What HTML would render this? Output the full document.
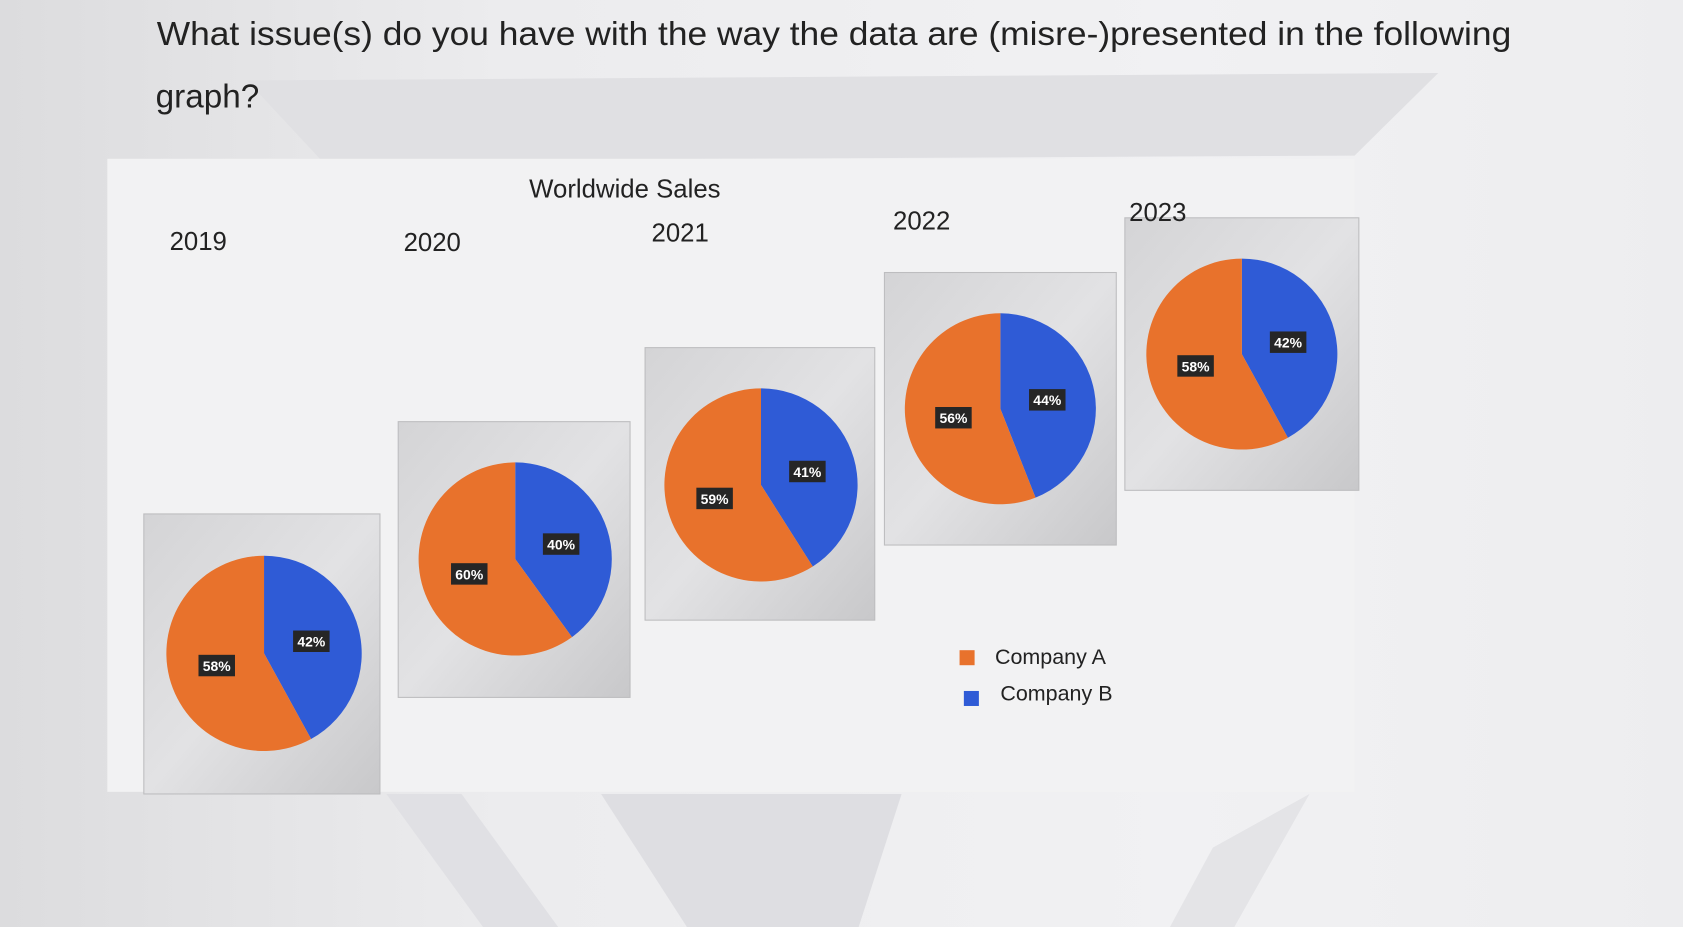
<!DOCTYPE html>
<html><head><meta charset="utf-8">
<style>
html,body{margin:0;padding:0;overflow:hidden}
body{width:1683px;height:927px;background:#e4e4e6}
#wrap{position:absolute;left:0;top:0;width:1568px;height:864px;transform:scale(1.07334,1.07292);transform-origin:0 0;
background:linear-gradient(90deg,#dcdcde 0%,#ececee 30%,#f1f1f3 70%,#ededef 100%);font-family:"Liberation Sans",sans-serif}
.t{position:absolute;color:#222;white-space:nowrap}
</style></head><body>
<div id="wrap">
<svg width="1568" height="864" style="position:absolute;left:0;top:0">
<polygon points="230,75 1340,68 1262,145 300,150" fill="#e0e0e3"/>
<rect x="100" y="148" width="1162" height="590" fill="#f2f2f3"/>
<polygon points="560,740 840,740 800,864 640,864" fill="#dedee2"/>
<polygon points="360,740 430,740 520,864 450,864" fill="#e0e0e4"/>
<polygon points="1130,790 1220,740 1150,864 1090,864" fill="#e4e4e7"/>
</svg>
<div class="t" style="left:146px;top:14px;font-size:31px;transform:scaleX(1.063);transform-origin:0 0">What issue(s) do you have with the way the data are (misre-)presented in the following</div>
<div class="t" style="left:145px;top:72px;font-size:31px">graph?</div>
<div class="t" style="left:493px;top:163px;font-size:24px">Worldwide Sales</div>
<svg id="chart" width="1568" height="864" style="position:absolute;left:0;top:0">
<defs><linearGradient id="pg" x1="0" y1="0" x2="1" y2="1"><stop offset="0" stop-color="#d4d4d6"/><stop offset="0.5" stop-color="#e2e2e4"/><stop offset="1" stop-color="#c8c8ca"/></linearGradient></defs>
</svg>
<div class="t" style="left:894px;top:606px;width:14px;height:14px;background:#e8722c"></div>
<div class="t" style="left:927px;top:602px;font-size:20px">Company A</div>
<div class="t" style="left:898px;top:644px;width:14px;height:14px;background:#2f5bd6"></div>
<div class="t" style="left:932px;top:636px;font-size:20px">Company B</div>
</div>
<script>
const years=['2019','2020','2021','2022','2023'];
const companyA=[58,60,59,56,58];
const companyB=[42,40,41,44,42];
const panels=[[134,479,220,261,246,609,91,158,233],[371,393,216,257,480,521,90,376,234],[601,324,214,254,709,452,90,607,225],[824,254,216,254,932,381,89,832,214],[1048,203,218,254,1157,330,89,1052,206]];
const svg=document.getElementById('chart');const NS='http://www.w3.org/2000/svg';
function mk(t,a){const e=document.createElementNS(NS,t);for(const k in a)e.setAttribute(k,a[k]);svg.appendChild(e);return e;}
function pt(cx,cy,r,frac){const a=frac*2*Math.PI;return [cx+r*Math.sin(a),cy-r*Math.cos(a)];}
function arc(cx,cy,r,f0,f1){const p0=pt(cx,cy,r,f0),p1=pt(cx,cy,r,f1);return `M${cx},${cy}L${p0[0]},${p0[1]}A${r},${r} 0 ${f1-f0>0.5?1:0} 1 ${p1[0]},${p1[1]}Z`;}
function label(x,y,txt,name){const w=34,h=20;
const r=mk('rect',{x:x-w/2,y:y-h/2,width:w,height:h,fill:'#262626'});

const t=mk('text',{x:x,y:y+5,'text-anchor':'middle','font-size':13,'font-weight':'bold',fill:'#fff','font-family':'Liberation Sans, sans-serif'});
t.textContent=txt;}
years.forEach((y,i)=>{const p=panels[i];const tot=companyA[i]+companyB[i];const fb=companyB[i]/tot;
const rc=mk('rect',{x:p[0],y:p[1],width:p[2],height:p[3],fill:'url(#pg)',stroke:'#bdbdbf'});

const cx=p[4],cy=p[5],r=p[6];
const b=mk('path',{d:arc(cx,cy,r,0,fb),fill:'#2f5bd6'});

const a=mk('path',{d:arc(cx,cy,r,fb,1),fill:'#e8722c'});

let lb=pt(cx,cy,r*0.5,fb/2);label(lb[0],lb[1],companyB[i]+'%','label-company-b-'+y);
let la=pt(cx,cy,r*0.5,fb+(1-fb)/2);label(la[0],la[1],companyA[i]+'%','label-company-a-'+y);
const yt=mk('text',{x:p[7],y:p[8],'font-size':24,fill:'#222','font-family':'Liberation Sans, sans-serif'});
yt.textContent=y;
});
</script>
</body></html>
